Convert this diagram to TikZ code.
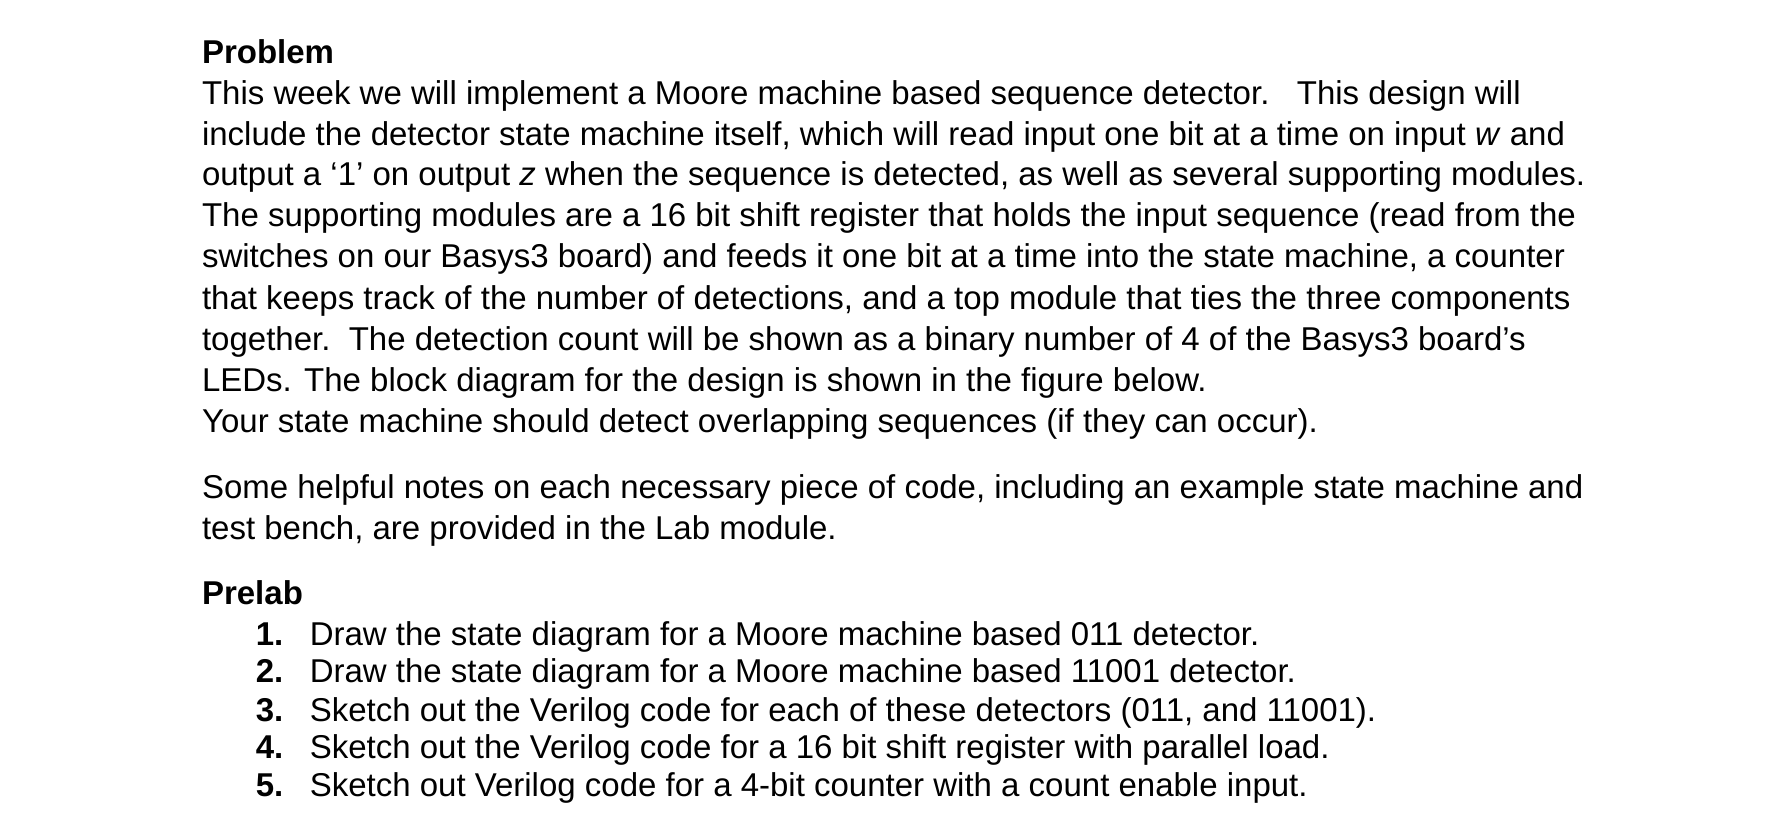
\documentclass[tikz,border=0pt]{standalone}
\usepackage{fontspec}
\setmainfont{Liberation Sans}
\begin{document}
\begin{tikzpicture}[x=1.134pt,y=-1.134pt,
  ln/.style={anchor=base west,inner sep=0pt,font=\fontsize{33}{36}\selectfont},
  num/.style={anchor=base east,inner sep=0pt,font=\fontsize{33}{36}\selectfont\bfseries}]
\useasboundingbox[fill=white] (0,0) rectangle (1563.5,719.6);
\node[ln,font=\fontsize{33}{36}\selectfont\bfseries] (h1) at (178,56) {Problem};
\node[ln] (l1) at (178,92) {This week we will implement a Moore machine based sequence detector.\ \ \ This design will};
\node[ln] (l2) at (178,128) {include the detector state machine itself, which will read input one bit at a time on input \textit{w} and};
\node[ln] (l3) at (178,164) {output a ‘1’ on output \textit{z} when the sequence is detected, as well as several supporting modules.};
\node[ln] (l4) at (178,200) {The supporting modules are a 16 bit shift register that holds the input sequence (read from the};
\node[ln] (l5) at (178,236) {switches on our Basys3 board) and feeds it one bit at a time into the state machine, a counter};
\node[ln] (l6) at (178,273) {that keeps track of the number of detections, and a top module that ties the three components};
\node[ln] (l7) at (178,309) {together.\ \ The detection count will be shown as a binary number of 4 of the Basys3 board’s};
\node[ln] (l8) at (178,345) {LEDs. The block diagram for the design is shown in the figure below.};
\node[ln] (l9) at (178,381) {Your state machine should detect overlapping sequences (if they can occur).};
\node[ln] (s1) at (178,440) {Some helpful notes on each necessary piece of code, including an example state machine and};
\node[ln] (s2) at (178,476) {test bench, are provided in the Lab module.};
\node[ln,font=\fontsize{33}{36}\selectfont\bfseries] (h2) at (178,533) {Prelab};
\node[num] (n1) at (250,569) {1.};
\node[ln] (i1) at (273,569) {Draw the state diagram for a Moore machine based 011 detector.};
\node[num] (n2) at (250,602) {2.};
\node[ln] (i2) at (273,602) {Draw the state diagram for a Moore machine based 11001 detector.};
\node[num] (n3) at (250,636) {3.};
\node[ln] (i3) at (273,636) {Sketch out the Verilog code for each of these detectors (011, and 11001).};
\node[num] (n4) at (250,669) {4.};
\node[ln] (i4) at (273,669) {Sketch out the Verilog code for a 16 bit shift register with parallel load.};
\node[num] (n5) at (250,702) {5.};
\node[ln] (i5) at (273,702) {Sketch out Verilog code for a 4-bit counter with a count enable input.};
\end{tikzpicture}
\end{document}
